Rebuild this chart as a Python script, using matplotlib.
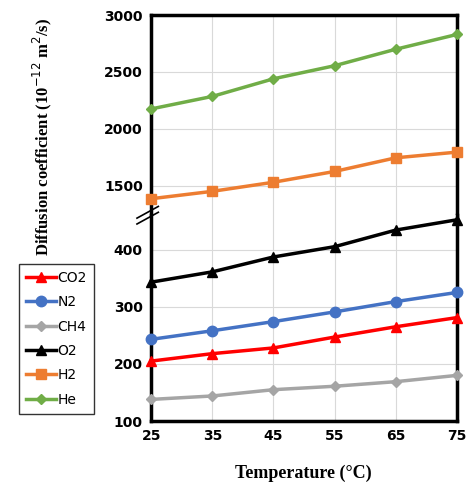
import matplotlib.pyplot as plt
import numpy as np

temps = [25, 35, 45, 55, 65, 75]
co2 = [205, 218, 228, 247, 265, 281]
n2 = [243, 258, 274, 291, 309, 325]
ch4 = [138, 144, 155, 161, 169, 180]
o2 = [343, 361, 387, 405, 434, 452]
h2 = [1385, 1450, 1530, 1625, 1745, 1795]
he = [2175, 2285, 2440, 2555, 2700, 2830]

fig = plt.figure(figsize=(4.74, 4.88), dpi=100)
L, R, B, T, S = 0.319, 0.964, 0.137, 0.969, 0.559
ax_hi = fig.add_axes([L, S, R - L, T - S])
ax_lo = fig.add_axes([L, B, R - L, S - B])

series = [('CO2', co2, '#ff0000', '^', 7.5, ax_lo),
          ('N2', n2, '#4472c4', 'o', 7.5, ax_lo),
          ('CH4', ch4, '#a5a5a5', 'D', 5.5, ax_lo),
          ('O2', o2, '#000000', '^', 7.5, ax_lo),
          ('H2', h2, '#ed7d31', 's', 7.5, ax_hi),
          ('He', he, '#70ad47', 'D', 5.5, ax_hi)]
handles = []
for name, vals, col, mk, ms, ax in series:
    h, = ax.plot(temps, vals, color=col, marker=mk, markersize=ms, lw=2.5, label=name,
                 clip_on=False, zorder=3)
    handles.append(h)

ax_hi.set_ylim(1240, 3000)
ax_hi.set_yticks([1500, 2000, 2500, 3000])
ax_lo.set_ylim(100, 460)
ax_lo.set_yticks([100, 200, 300, 400])
for ax in (ax_hi, ax_lo):
    ax.set_xlim(25, 75)
    ax.set_xticks(temps)
    ax.grid(True, color='#d9d9d9', lw=0.8)
    ax.set_axisbelow(True)
    ax.tick_params(length=0, labelsize=10, pad=6)
    for lab in ax.get_yticklabels() + ax.get_xticklabels():
        lab.set_fontweight('bold')
    for sp in ax.spines.values():
        sp.set_linewidth(2.5)
        sp.set_zorder(2)
ax_hi.spines['bottom'].set_visible(False)
ax_lo.spines['top'].set_visible(False)
ax_hi.tick_params(labelbottom=False)

# break mark
for dy in (-0.006, 0.006):
    fig.add_artist(plt.Line2D([L - 0.03, L + 0.015], [S - 0.012 + dy, S + 0.012 + dy],
                              color='black', lw=1.2))

fig.text(0.09, 0.72, 'Diffusion coefficient (10$^{-12}$ m$^2$/s)', rotation=90,
         ha='center', va='center', fontsize=12, fontweight='bold', family='Liberation Serif')
fig.text(0.64, 0.03, 'Temperature (°C)', ha='center', va='center',
         fontsize=13, fontweight='bold', family='Liberation Serif')

leg = fig.legend(handles=handles, loc='lower left', bbox_to_anchor=(0.025, 0.138),
                 fancybox=False, edgecolor='black', fontsize=10, handlelength=2.2,
                 handletextpad=0.1, labelspacing=0.75, borderpad=0.5)
leg.get_frame().set_linewidth(1)

fig.savefig('out.png', dpi=100)
